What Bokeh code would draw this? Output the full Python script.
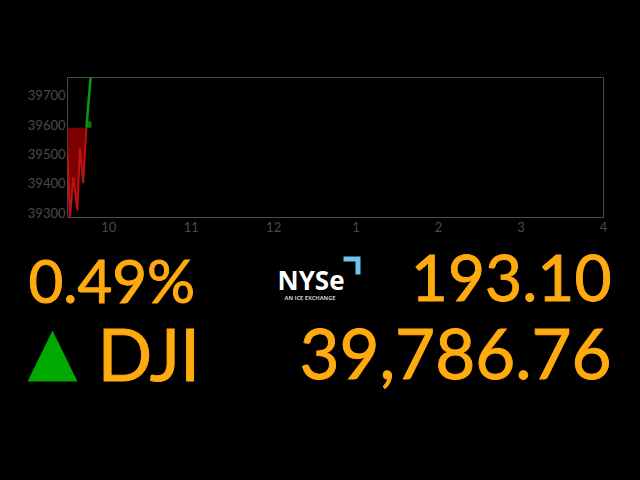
from bokeh.plotting import figure
from bokeh.layouts import column
from bokeh.embed import file_html
from bokeh.resources import INLINE
from bokeh.models import FixedTicker, Range1d
from bokeh.core.properties import value

hours = [9.50, 9.53, 9.57, 9.62, 9.65, 9.69, 9.73, 9.75, 9.77, 9.79]
prices = [39500, 39285, 39420, 39307, 39520, 39400, 39592, 39660, 39728, 39786.76]
base = 39590
x_ticks = [10, 11, 12, 13, 14, 15, 16]
x_labels = ["10", "11", "12", "1", "2", "3", "4"]
y_ticks = [39300, 39400, 39500, 39600, 39700]
change_text = "0.49%"
volume_text = "193.10"
symbol_text = "DJI"
last_text = "39,786.76"

ORANGE = "#FFAB0F"
GRAY = "#4a4a4a"

p = figure(width=640, height=235, output_backend="svg", toolbar_location=None,
           x_range=Range1d(9.5, 16), y_range=Range1d(39283, 39761.5),
           background_fill_color="black", border_fill_color="black",
           min_border_left=67, min_border_right=37, min_border_top=77, min_border_bottom=18)
p.frame_align = False
p.grid.visible = False
p.outline_line_color = GRAY
p.outline_line_width = 1
for ax in (p.xaxis[0], p.yaxis[0]):
    ax.axis_line_color = None
    ax.major_tick_line_color = None
    ax.minor_tick_line_color = None
    ax.major_tick_out = 0
    ax.major_label_text_color = GRAY
    ax.major_label_text_font = "Lato"
    ax.major_label_text_font_size = "13px"
p.xaxis[0].ticker = FixedTicker(ticks=x_ticks)
p.xaxis[0].major_label_overrides = dict(zip(x_ticks, x_labels))
p.yaxis[0].ticker = FixedTicker(ticks=y_ticks)
p.yaxis[0].major_label_standoff = 2
p.xaxis[0].major_label_standoff = 4

red_x = [h for h, v in zip(hours, prices) if v <= 39592]
red_y = [v for v in prices if v <= 39592]
green_x = [h for h, v in zip(hours, prices) if v >= 39592]
green_y = [v for v in prices if v >= 39592]

p.varea(x=red_x, y1=red_y, y2=[base] * len(red_x), fill_color="#7d0000")
p.line(x=red_x, y=red_y, line_color="#c01010", line_width=2)
p.varea(x=green_x, y1=[base] * len(green_x), y2=[39612] * len(green_x), fill_color="#0a7a0a")
p.line(x=green_x, y=green_y, line_color="#0a9a0a", line_width=2.5)

# lower panel: one unit is one pixel of the window
q = figure(width=640, height=245, output_backend="svg", toolbar_location=None,
           x_range=Range1d(0, 640), y_range=Range1d(480, 235),
           background_fill_color="black", border_fill_color="black",
           min_border_left=0, min_border_right=0, min_border_top=0, min_border_bottom=0)
q.frame_align = False
q.grid.visible = False
q.axis.visible = False
q.outline_line_alpha = 0
q.outline_line_width = 0


def put(text, x, y, size, color=ORANGE, align="left", font="Lato", style="normal", thick=False):
    extra = dict(text_outline_color=color) if thick else {}
    q.text(x=[x], y=[y - 0.4 * size], text=[text], text_color=color, text_font=value(font),
           text_font_style=style, text_font_size=f"{size}px", text_align=align,
           text_baseline="alphabetic", **extra)


put(change_text, 28, 303, 60, thick=True)
put(volume_text, 611, 303, 64, align="right", thick=True)
put(symbol_text, 97, 381, 72, thick=True)
put(last_text, 611, 381, 69, align="right", thick=True)

q.patch(x=[27, 77, 52], y=[381, 381, 330], fill_color="#00A800", line_color=None)
q.patch(x=[343, 360, 360, 355, 355, 343], y=[256, 256, 274, 274, 261, 261],
        fill_color="#6EC6F0", line_color=None)
put("NYSe", 277, 290, 26, color="white", font="Open Sans", style="bold")
put("AN ICE EXCHANGE", 284, 300, 5.7, color="#cccccc", font="Open Sans", style="bold")

layout = column(p, q, spacing=0, styles={"background": "black"})
open("out.html", "w").write(file_html(layout, INLINE))
